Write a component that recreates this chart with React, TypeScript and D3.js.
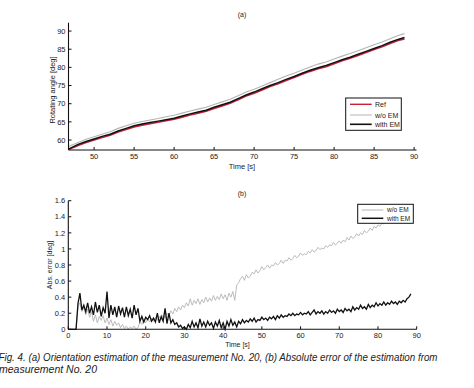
import React from "react";
import * as d3 from "d3";

// ---- (a) Rotating angle ----
const angleTime = [46.8, 48, 49, 50, 51, 52, 53, 54, 55, 56, 57, 58, 59, 60, 61, 62, 63, 64, 65, 66, 67, 68, 69, 70, 71, 72, 73, 74, 75, 76, 77, 78, 79, 80, 81, 82, 83, 84, 85, 86, 87, 88, 88.8];
const angleRef = [57.4, 58.5, 59.3, 60.0, 60.7, 61.3, 62.2, 62.9, 63.6, 64.1, 64.5, 64.9, 65.3, 65.7, 66.3, 66.9, 67.4, 67.9, 68.7, 69.4, 70.1, 71.1, 72.1, 72.9, 73.8, 74.7, 75.5, 76.4, 77.2, 78.1, 78.9, 79.6, 80.2, 81.0, 81.8, 82.5, 83.3, 84.1, 84.9, 85.7, 86.6, 87.4, 87.8];
const angleWoEM = [58.2, 59.3, 60.2, 60.9, 61.6, 62.3, 63.2, 63.9, 64.6, 65.1, 65.5, 65.9, 66.4, 66.8, 67.4, 68.0, 68.5, 69.0, 69.8, 70.5, 71.2, 72.2, 73.2, 74.0, 74.9, 75.8, 76.7, 77.6, 78.4, 79.3, 80.1, 80.9, 81.5, 82.3, 83.1, 83.8, 84.6, 85.4, 86.2, 87.0, 87.9, 88.8, 89.3];
const angleWithEM = [57.5, 58.8, 59.6, 60.3, 61.0, 61.6, 62.5, 63.2, 63.9, 64.4, 64.8, 65.2, 65.6, 66.0, 66.6, 67.2, 67.7, 68.2, 69.0, 69.7, 70.4, 71.4, 72.4, 73.2, 74.1, 75.0, 75.8, 76.7, 77.5, 78.4, 79.2, 79.9, 80.5, 81.3, 82.1, 82.8, 83.6, 84.4, 85.2, 86.0, 86.9, 87.7, 88.2];
const angleXTicks = [50, 55, 60, 65, 70, 75, 80, 85, 90];
const angleYTicks = [60, 65, 70, 75, 80, 85, 90];

// ---- (b) Absolute error, sampled every 0.5 s from 0 s ----
const errStep = 0.5;
const errWoEM = [
  0, 0, 0, 0, 0, 0.28, 0.33, 0.22, 0.27, 0.18, 0.25, 0.15, 0.22, 0.1, 0.18, 0.08, 0.16, 0.11, 0.17, 0.08,
  0.14, 0.06, 0.12, 0.04, 0.1, 0.05, 0.08, 0.02, 0.06, 0.01, 0.04, 0.0, 0.03, 0.01, 0.04, 0.0, 0.02, 0.09, 0.06, 0.12,
  0.08, 0.13, 0.09, 0.14, 0.1, 0.15, 0.11, 0.16, 0.12, 0.18, 0.14, 0.2, 0.17, 0.23, 0.19, 0.26, 0.22, 0.28, 0.24, 0.3,
  0.27, 0.33, 0.29, 0.38, 0.3, 0.36, 0.32, 0.38, 0.31, 0.37, 0.33, 0.4, 0.34, 0.39, 0.35, 0.42, 0.36, 0.41, 0.37, 0.44,
  0.38, 0.43, 0.36, 0.45, 0.4, 0.47, 0.36, 0.55, 0.58, 0.63, 0.66, 0.61, 0.68, 0.64, 0.66, 0.71, 0.69, 0.74, 0.7, 0.73,
  0.78, 0.74, 0.77, 0.8, 0.76, 0.8, 0.79, 0.83, 0.8, 0.82, 0.86, 0.82, 0.86, 0.85, 0.89, 0.86, 0.88, 0.92, 0.89, 0.91,
  0.95, 0.92, 0.94, 0.93, 0.97, 0.95, 0.99, 0.96, 0.98, 1.02, 0.99, 1.01, 1.0, 1.04, 1.02, 1.05, 1.04, 1.08, 1.05, 1.07,
  1.1, 1.07, 1.11, 1.09, 1.14, 1.11, 1.16, 1.13, 1.15, 1.19, 1.16, 1.2, 1.18, 1.23, 1.2, 1.22, 1.26, 1.23, 1.28, 1.26,
  1.3, 1.28, 1.32, 1.31, 1.34, 1.33, 1.37, 1.35, 1.38, 1.37, 1.4, 1.38, 1.41, 1.4, 1.43, 1.42, 1.44, 1.45
];
const errWithEM = [
  0, 0, 0, 0, 0, 0.32, 0.45, 0.24, 0.3, 0.22, 0.33, 0.2, 0.28, 0.18, 0.34, 0.21, 0.3, 0.16, 0.27, 0.2,
  0.47, 0.14, 0.3, 0.18, 0.28, 0.15, 0.29, 0.19, 0.27, 0.15, 0.28, 0.17, 0.25, 0.14, 0.3, 0.18, 0.26, 0.1, 0.16, 0.09,
  0.15, 0.12, 0.17, 0.1, 0.14, 0.09, 0.2, 0.08, 0.16, 0.1, 0.26, 0.07, 0.2, 0.08, 0.12, 0.06, 0.08, 0.03, 0.05, 0.01,
  0.03, 0.0, 0.06, 0.02, 0.1, 0.03, 0.08, 0.02, 0.13, 0.04, 0.09, 0.03, 0.1, 0.05, 0.08, 0.01, 0.09, 0.04, 0.11, 0.02,
  0.08, 0.0, 0.1, 0.04, 0.12, 0.05, 0.09, 0.03, 0.1, 0.07, 0.12, 0.08, 0.11, 0.09, 0.13, 0.1, 0.14, 0.09, 0.12, 0.11,
  0.15, 0.12, 0.14, 0.11, 0.15, 0.13, 0.16, 0.12, 0.17, 0.14, 0.18, 0.15, 0.17, 0.16, 0.19, 0.17, 0.2, 0.17, 0.19, 0.18,
  0.21, 0.18, 0.2, 0.19, 0.22, 0.18, 0.21, 0.24, 0.19, 0.22, 0.2, 0.23, 0.19, 0.22, 0.2, 0.24, 0.21, 0.23, 0.2, 0.25,
  0.22, 0.24, 0.21, 0.26, 0.23, 0.25, 0.22, 0.28, 0.24, 0.27, 0.25, 0.3, 0.26, 0.28, 0.25, 0.31, 0.27, 0.3, 0.28, 0.33,
  0.29, 0.32, 0.3, 0.34, 0.3, 0.33, 0.31, 0.35, 0.32, 0.34, 0.31, 0.35, 0.33, 0.36, 0.34, 0.38, 0.4, 0.44
];
const errXTicks = [0, 10, 20, 30, 40, 50, 60, 70, 80, 90];
const errYTicks = [0, 0.2, 0.4, 0.6, 0.8, 1, 1.2, 1.4, 1.6];

const FONT = "'Liberation Sans', Arial, sans-serif";
const RED = "#c8203a";
const GRAY = "#b4b4b4";

function Axes({ x, y, xTicks, yTicks, fmtY }: any) {
  const [x0, x1] = x.range();
  const [y0, y1] = y.range();
  return (
    <g fontFamily={FONT} fontSize={7.5} fill="#222">
      <line x1={x0} x2={x1} y1={y0} y2={y0} stroke="#111" strokeWidth={1.1} />
      <line x1={x0} x2={x0} y1={y0} y2={y1} stroke="#111" strokeWidth={1.1} />
      {xTicks.map((t: number) => (
        <g key={"x" + t}>
          <line x1={x(t)} x2={x(t)} y1={y0} y2={y0 - 3} stroke="#111" strokeWidth={1} />
          <text x={x(t)} y={y0 + 9} textAnchor="middle">{t}</text>
        </g>
      ))}
      {yTicks.map((t: number) => (
        <g key={"y" + t}>
          <line x1={x0} x2={x0 + 3} y1={y(t)} y2={y(t)} stroke="#111" strokeWidth={1} />
          <text x={x0 - 3} y={y(t) + 2.7} textAnchor="end">{fmtY(t)}</text>
        </g>
      ))}
    </g>
  );
}

export default function App() {
  const xA = d3.scaleLinear().domain([46.8, 90.3]).range([68.5, 416.5]);
  const yA = d3.scaleLinear().domain([57.25, 92.3]).range([150, 22.7]);
  const xB = d3.scaleLinear().domain([0, 90]).range([68.3, 416.7]);
  const yB = d3.scaleLinear().domain([0, 1.6]).range([329.3, 200.7]);

  const lineA = (vals: number[]) =>
    d3.line<number>().x((_, i) => xA(angleTime[i])).y((v) => yA(v))(vals) || "";
  const lineB = (vals: number[]) =>
    d3.line<number>().x((_, i) => xB(i * errStep)).y((v) => yB(v))(vals) || "";

  return (
    <svg width={474} height={388} style={{ position: "absolute", left: 0, top: 0, background: "#fff" }}>
      <rect width={474} height={388} fill="#fff" />
      {/* (a) */}
      <text x={242} y={17} textAnchor="middle" fontFamily={FONT} fontSize={7} fill="#222">(a)</text>
      <path d={lineA(angleWoEM)} fill="none" stroke={GRAY} strokeWidth={1.1} />
      <path d={lineA(angleRef)} fill="none" stroke={RED} strokeWidth={1.6} />
      <path d={lineA(angleWithEM)} fill="none" stroke="#111" strokeWidth={1.5} />
      <Axes x={xA} y={yA} xTicks={angleXTicks} yTicks={angleYTicks} fmtY={(t: number) => String(t)} />
      <text x={242} y={168.5} textAnchor="middle" fontFamily={FONT} fontSize={7.5} fill="#222">Time [s]</text>
      <text transform="translate(54.5,90) rotate(-90)" textAnchor="middle" fontFamily={FONT} fontSize={7.5} fill="#222">Rotating angle [deg]</text>
      <g fontFamily={FONT} fontSize={7} fill="#222">
        <rect x={345.7} y={98} width={55.6} height={32.3} fill="#fff" stroke="#111" strokeWidth={1} />
        <line x1={350} x2={371.7} y1={104.3} y2={104.3} stroke={RED} strokeWidth={1.4} />
        <text x={375} y={106.8}>Ref</text>
        <line x1={350} x2={371.7} y1={115} y2={115} stroke={GRAY} strokeWidth={1} />
        <text x={375} y={117.5}>w/o EM</text>
        <line x1={350} x2={371.7} y1={124.3} y2={124.3} stroke="#111" strokeWidth={1.6} />
        <text x={375} y={126.8}>with EM</text>
      </g>

      {/* (b) */}
      <text x={242} y={195.5} textAnchor="middle" fontFamily={FONT} fontSize={7} fill="#222">(b)</text>
      <path d={lineB(errWoEM)} fill="none" stroke={GRAY} strokeWidth={0.9} />
      <path d={lineB(errWithEM)} fill="none" stroke="#111" strokeWidth={1.3} />
      <Axes x={xB} y={yB} xTicks={errXTicks} yTicks={errYTicks} fmtY={(t: number) => String(t)} />
      <text x={237.5} y={347} textAnchor="middle" fontFamily={FONT} fontSize={7} fill="#222">Time [s]</text>
      <text transform="translate(52,265) rotate(-90)" textAnchor="middle" fontFamily={FONT} fontSize={7} fill="#222">Abs. error [deg]</text>
      <g fontFamily={FONT} fontSize={6.5} fill="#222">
        <rect x={357.7} y={204.3} width={55.6} height={19} fill="#fff" stroke="#111" strokeWidth={1} />
        <line x1={361.7} x2={383.3} y1={210} y2={210} stroke={GRAY} strokeWidth={1} />
        <text x={387} y={212.3}>w/o EM</text>
        <line x1={361.7} x2={383.3} y1={218.3} y2={218.3} stroke="#111" strokeWidth={1.5} />
        <text x={387} y={220.6}>with EM</text>
      </g>

      {/* caption */}
      <g fontFamily={FONT} fontSize={10.5} fontStyle="italic" fill="#222">
        <text x={-1.5} y={360.5} textLength={439} lengthAdjust="spacingAndGlyphs">Fig. 4. (a) Orientation estimation of the measurement No. 20, (b) Absolute error of the estimation from</text>
        <text x={-1} y={372.8}>measurement No. 20</text>
      </g>
    </svg>
  );
}
